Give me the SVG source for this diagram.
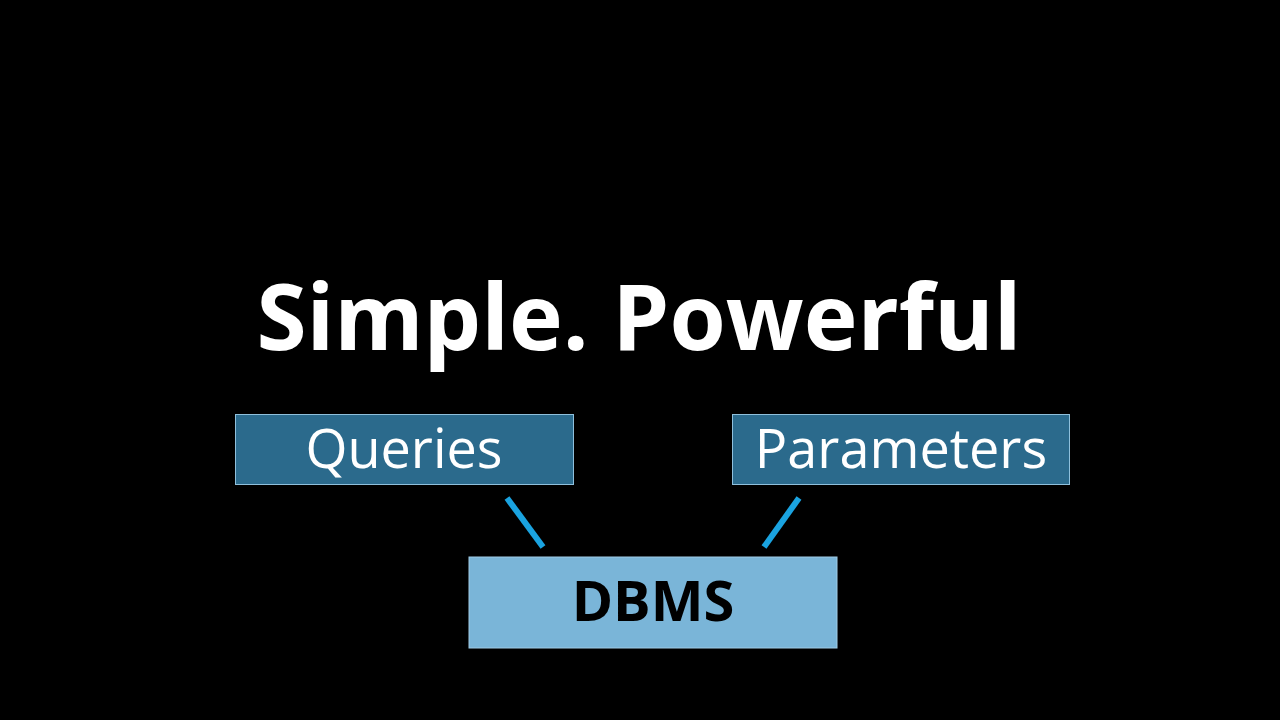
<svg xmlns="http://www.w3.org/2000/svg" width="1280" height="720" viewBox="0 0 1280 720">
<style>
.top{fill:#2b6a8c;stroke:#8fc0dc;stroke-width:1}
.tt{font-family:"Open Sans","DejaVu Sans",sans-serif;font-size:54px;fill:#fff;text-anchor:middle}
.ln{stroke:#1aa3e0;stroke-width:6}
</style>
<rect width="1280" height="720" fill="#000"/>
<text x="639" y="350" font-family="'Open Sans','DejaVu Sans',sans-serif" font-weight="bold" font-size="91" fill="#fff" text-anchor="middle">Simple. Powerful</text>
<g id="queries"><rect class="top" x="235.5" y="414.5" width="338" height="70"/><text class="tt" x="404" y="468">Queries</text></g>
<g id="parameters"><rect class="top" x="732.5" y="414.5" width="337" height="70"/><text class="tt" x="901" y="468">Parameters</text></g>
<g id="dbms"><rect x="469" y="557" width="368" height="91" fill="#7ab5d8" stroke="#9fcbe6"/><text x="653" y="621" font-family="'Open Sans','DejaVu Sans',sans-serif" font-weight="bold" font-size="56" fill="#000" text-anchor="middle">DBMS</text></g>
<g id="connectors"><line class="ln" x1="507" y1="498" x2="543" y2="547"/><line class="ln" x1="799" y1="498" x2="764" y2="547"/></g>
</svg>
